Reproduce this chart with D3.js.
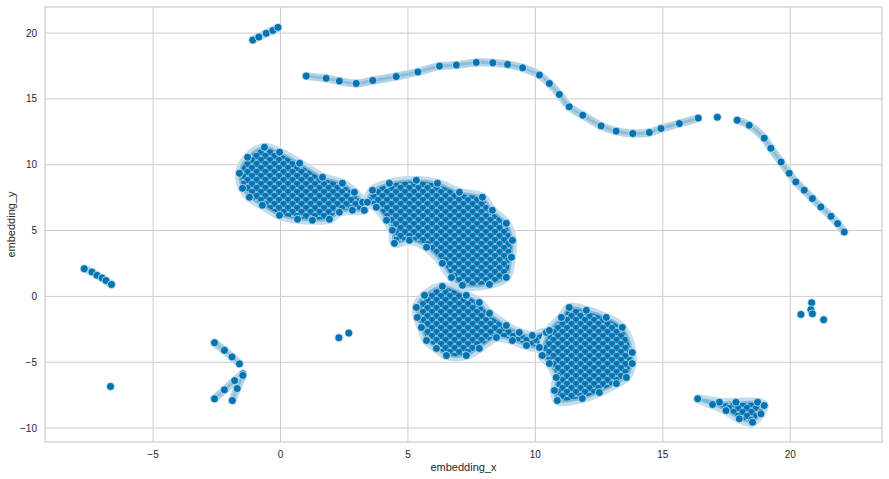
<!DOCTYPE html>
<html>
<head>
<meta charset="utf-8">
<script src="https://cdn.jsdelivr.net/npm/d3@7"></script>
<style>
  body { margin: 0; background: #fff; }
  text { font-family: "Liberation Sans", Arial, sans-serif; fill: #262626; }
</style>
</head>
<body>
<svg id="chart" width="889" height="479"></svg>
<script>
// tick labels
var xTicks = [-5, 0, 5, 10, 15, 20];
var yTicks = [-10, -5, 0, 5, 10, 15, 20];

// dense clusters, outline
var blobA = [[-1.61,9.35],[-1.29,10.57],[-0.63,11.33],[-0.04,10.95],[0.75,10.11],[1.65,9.05],[2.43,8.59],[2.9,7.91],[3.22,7.15],[3.29,6.54],[2.82,6.54],[2.31,6.39],[1.92,5.86],[1.25,5.78],[0.67,5.86],[-0.04,6.16],[-0.71,6.92],[-1.22,7.53],[-1.49,8.21]];
var blobB = [[3.61,8.06],[4.27,8.59],[5.33,8.82],[6.16,8.59],[7.02,7.91],[7.92,7.53],[8.31,6.54],[8.86,5.55],[9.1,4.26],[9.06,2.97],[8.86,1.44],[8.2,0.91],[7.14,0.84],[6.71,1.44],[6.35,2.51],[5.73,3.73],[5.06,4.26],[4.47,4.03],[4.39,5.02],[4.16,5.78],[3.76,6.77],[3.41,7.15]];
var blobD = [[5.33,-0.84],[5.65,0.08],[6.35,0.76],[7.29,0.08],[7.8,-0.46],[8.2,-1.29],[8.86,-2.21],[9.37,-2.74],[9.88,-2.97],[10.43,-2.74],[10.16,-3.88],[9.65,-3.73],[9.1,-3.35],[8.47,-3.12],[7.8,-3.95],[7.29,-4.49],[6.51,-4.49],[6.12,-3.95],[5.73,-3.35],[5.53,-2.36],[5.37,-1.6]];
var blobC = [[10.55,-2.59],[11.02,-1.6],[11.33,-0.84],[12.0,-1.06],[12.78,-1.6],[13.41,-2.36],[13.8,-4.26],[13.8,-5.1],[13.57,-6.16],[13.18,-6.62],[12.51,-7.3],[11.84,-7.76],[10.86,-7.91],[10.75,-7.15],[10.82,-6.16],[10.55,-5.1],[10.27,-4.49]];
var blobE = [[16.37,-7.78],[17.22,-8.04],[17.87,-8.04],[18.72,-8.04],[18.98,-8.29],[18.85,-8.92],[18.52,-9.56],[18.0,-9.3],[17.48,-8.67],[16.95,-8.21]];

// thin strands
var arcTop = [[1.01,16.73],[1.79,16.56],[2.31,16.35],[2.97,16.17],[3.62,16.4],[4.54,16.7],[5.39,17.05],[6.24,17.49],[6.9,17.57],[7.68,17.77],[8.33,17.74],[8.91,17.62],[9.5,17.36],[10.16,16.81],[10.55,16.17],[10.94,15.34],[11.33,14.4],[11.86,13.76],[12.58,12.95],[13.17,12.55],[13.82,12.37],[14.47,12.45],[14.93,12.75],[15.65,13.13],[16.39,13.54]];
var arcRight = [[17.92,13.38],[18.39,13.0],[18.98,12.02],[19.24,11.25],[19.64,10.21],[19.96,9.35],[20.22,8.69],[20.55,8.06],[20.87,7.43],[21.2,6.79],[21.6,6.08],[21.86,5.53],[22.12,4.89]];
var stubTop = [[-1.09,19.47],[-0.85,19.7],[-0.56,19.98],[-0.3,20.2],[-0.1,20.43]];
var stubLeft = [[-7.7,2.1],[-7.4,1.85],[-7.2,1.6],[-7.0,1.4],[-6.85,1.2],[-6.63,0.9]];
var strand1 = [[-2.59,-3.52],[-2.2,-4.1],[-1.9,-4.6],[-1.61,-5.12]];
var strand2 = [[-2.59,-7.78],[-2.2,-7.1],[-1.8,-6.4],[-1.48,-5.88]];
var strand3 = [[-1.89,-7.91],[-1.7,-7.0],[-1.48,-6.0]];
var clusterRight = [[20.42,-1.37],[20.84,-0.48],[20.81,-1.01],[20.87,-1.32],[21.31,-1.77]];
var singles = [[17.14,13.61],[-6.67,-6.84],[2.29,-3.14],[2.68,-2.79]];

var blobs = [blobA, blobB, blobD, blobC, blobE];
var strands = [arcTop, arcRight, stubTop, stubLeft, strand1, strand2, strand3];

var margin = {top: 7, right: 7, bottom: 37, left: 45};
var W = 889, H = 479;
var svg = d3.select('#chart');

var x = d3.scaleLinear().domain([-9.24, 23.6]).range([margin.left, W - margin.right]);
var y = d3.scaleLinear().domain([-11.06, 21.98]).range([H - margin.bottom, margin.top]);

var blue = '#0173b2';

// scaly fill pattern for the dense clusters
var defs = svg.append('defs');
var pat = defs.append('pattern').attr('id', 'dots').attr('patternUnits', 'userSpaceOnUse')
  .attr('width', 9).attr('height', 8);
pat.append('rect').attr('width', 9).attr('height', 8).attr('fill', '#8fbfdb');
[[0, 0], [9, 0], [4.5, 4], [0, 8], [9, 8]].forEach(function(p){
  pat.append('circle').attr('cx', p[0]).attr('cy', p[1]).attr('r', 3.6).attr('fill', blue)
    .attr('stroke', '#ffffff').attr('stroke-opacity', 0.5).attr('stroke-width', 0.7);
});

// grid
svg.append('g').selectAll('line').data(xTicks).enter().append('line')
  .attr('x1', function(d){ return x(d); }).attr('x2', function(d){ return x(d); })
  .attr('y1', margin.top).attr('y2', H - margin.bottom)
  .attr('stroke', '#cccccc').attr('stroke-width', 1);
svg.append('g').selectAll('line').data(yTicks).enter().append('line')
  .attr('y1', function(d){ return y(d); }).attr('y2', function(d){ return y(d); })
  .attr('x1', margin.left).attr('x2', W - margin.right)
  .attr('stroke', '#cccccc').attr('stroke-width', 1);
svg.append('rect').attr('x', margin.left).attr('y', margin.top)
  .attr('width', W - margin.left - margin.right).attr('height', H - margin.top - margin.bottom)
  .attr('fill', 'none').attr('stroke', '#cccccc').attr('stroke-width', 1.2);

// tick labels
svg.append('g').selectAll('text').data(xTicks).enter().append('text')
  .attr('x', function(d){ return x(d); }).attr('y', H - margin.bottom + 16)
  .attr('text-anchor', 'middle').attr('font-size', 10)
  .text(function(d){ return d < 0 ? '\u2212' + (-d) : d; });
svg.append('g').selectAll('text').data(yTicks).enter().append('text')
  .attr('x', margin.left - 8).attr('y', function(d){ return y(d) + 3.5; })
  .attr('text-anchor', 'end').attr('font-size', 10)
  .text(function(d){ return d < 0 ? '\u2212' + (-d) : d; });

svg.append('text').attr('x', (margin.left + W - margin.right) / 2).attr('y', 471)
  .attr('text-anchor', 'middle').attr('font-size', 11).text('embedding_x');
svg.append('text').attr('transform', 'translate(15,' + ((margin.top + H - margin.bottom) / 2) + ') rotate(-90)')
  .attr('text-anchor', 'middle').attr('font-size', 11).text('embedding_y');

var marks = svg.append('g');

// clusters: halo, scaly fill, edge points
var blobLine = d3.line().x(function(d){ return x(d[0]); }).y(function(d){ return y(d[1]); })
  .curve(d3.curveCatmullRomClosed);
blobs.forEach(function(b){
  var dStr = blobLine(b);
  marks.append('path').attr('class', 'halo').attr('d', dStr)
    .attr('fill', '#c2ddec').attr('stroke', '#c2ddec').attr('stroke-width', 9)
    .attr('stroke-linejoin', 'round');
  marks.append('path').attr('class', 'blob').attr('d', dStr)
    .attr('fill', 'url(#dots)').attr('stroke', '#7fb5d5').attr('stroke-width', 2);
});

// strands: pale band then points
var strandLine = d3.line().x(function(d){ return x(d[0]); }).y(function(d){ return y(d[1]); })
  .curve(d3.curveCatmullRom);
strands.forEach(function(s){
  marks.append('path').attr('class', 'band').attr('d', strandLine(s)).attr('fill', 'none')
    .attr('stroke', '#b3d4e6').attr('stroke-width', 8).attr('stroke-linecap', 'round');
  marks.append('path').attr('class', 'band2').attr('d', strandLine(s)).attr('fill', 'none')
    .attr('stroke', '#8fbdd9').attr('stroke-width', 3).attr('stroke-linecap', 'round');
});

var pts = [];
blobs.concat(strands).forEach(function(s){ pts = pts.concat(s); });
pts = pts.concat(clusterRight, singles);

marks.selectAll('circle.pt').data(pts).enter().append('circle').attr('class', 'pt')
  .attr('cx', function(d){ return x(d[0]); }).attr('cy', function(d){ return y(d[1]); })
  .attr('r', 4).attr('fill', blue).attr('stroke', '#ffffff').attr('stroke-opacity', 0.8)
  .attr('stroke-width', 0.8);
</script>
</body>
</html>
